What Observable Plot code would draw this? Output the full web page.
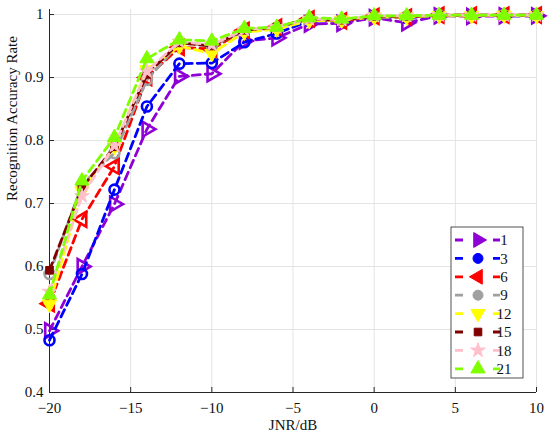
<!DOCTYPE html>
<html>
<head>
<meta charset="utf-8">
<script src="https://cdn.jsdelivr.net/npm/d3@7"></script>
<script src="https://cdn.jsdelivr.net/npm/@observablehq/plot@0.6"></script>
<style>
  body { margin: 0; background: #fff; }
  #chart { width: 550px; height: 436px; }
  #chart svg text { font-family: "Times New Roman", "Liberation Serif", "DejaVu Serif", serif !important; }
</style>
</head>
<body>
<div id="chart"></div>
<script>
// JNR values (dB)
const jnr = [-20, -18, -16, -14, -12, -10, -8, -6, -4, -2, 0, 2, 4, 6, 8, 10];

// recognition accuracy per series
const acc1  = [0.498, 0.600, 0.699, 0.818, 0.902, 0.906, 0.958, 0.963, 0.985, 0.986, 0.995, 0.987, 0.998, 0.997, 0.998, 0.998];
const acc3  = [0.483, 0.588, 0.722, 0.854, 0.922, 0.923, 0.956, 0.970, 0.990, 0.990, 0.996, 0.995, 0.998, 0.999, 0.998, 0.998];
const acc6  = [0.541, 0.675, 0.759, 0.900, 0.948, 0.945, 0.975, 0.980, 0.993, 0.990, 0.997, 0.996, 0.999, 0.999, 0.999, 0.999];
const acc9  = [0.588, 0.730, 0.780, 0.896, 0.955, 0.950, 0.974, 0.979, 0.992, 0.991, 0.997, 0.997, 0.999, 0.998, 0.999, 0.999];
const acc12 = [0.540, 0.720, 0.790, 0.912, 0.950, 0.938, 0.972, 0.977, 0.990, 0.991, 0.996, 0.996, 0.998, 0.998, 0.999, 0.998];
const acc15 = [0.594, 0.725, 0.790, 0.905, 0.955, 0.950, 0.975, 0.980, 0.993, 0.991, 0.997, 0.997, 0.999, 0.999, 0.999, 0.999];
const acc18 = [0.560, 0.712, 0.792, 0.910, 0.957, 0.952, 0.976, 0.980, 0.993, 0.992, 0.998, 0.998, 0.999, 0.999, 0.999, 0.999];
const acc21 = [0.555, 0.736, 0.805, 0.930, 0.960, 0.958, 0.978, 0.980, 0.995, 0.993, 0.998, 0.998, 0.999, 0.999, 0.999, 0.999];

const seriesNames   = ["1", "3", "6", "9", "12", "15", "18", "21"];
const seriesValues  = [acc1, acc3, acc6, acc9, acc12, acc15, acc18, acc21];
const seriesColors  = ["#8f00d6", "#0000ff", "#ff0000", "#a0a0a0", "#ffff00", "#800000", "#ffc0cb", "#80ff00"];
const seriesSymbols = ["triangle", "circle", "triangle", "circle", "triangle", "square", "star", "triangle"];
const seriesRotate  = [90, 0, -90, 0, 180, 0, 0, 0];
const seriesHollow  = [true, true, true, true, false, false, false, false];
const seriesR       = [5.5, 5, 5.5, 5, 5.3, 4.3, 4.6, 5.3];

const xTicks = [-20, -15, -10, -5, 0, 5, 10];
const yTicks = [0.4, 0.5, 0.6, 0.7, 0.8, 0.9, 1];

const axisColor = "#262626";
const gridColor = "#e3e3e3";

const seriesMarks = seriesValues.flatMap((vals, i) => {
  const rows = vals.map((v, j) => ({x: jnr[j], y: v}));
  return [
    Plot.line(rows, {
      x: "x", y: "y",
      stroke: seriesColors[i], strokeWidth: 2.8, strokeDasharray: "8,5"
    }),
    Plot.dot(rows, {
      x: "x", y: "y",
      symbol: seriesSymbols[i], rotate: seriesRotate[i], r: seriesR[i],
      stroke: seriesColors[i], strokeWidth: seriesHollow[i] ? 2.6 : 1,
      fill: seriesHollow[i] ? "none" : seriesColors[i]
    })
  ];
});

const chart = Plot.plot({
  width: 550,
  height: 436,
  marginLeft: 49,
  marginRight: 14,
  marginTop: 9,
  marginBottom: 44,
  style: {fontSize: "15px", background: "#fff", color: axisColor},
  x: {domain: [-20, 10]},
  y: {domain: [0.4, 1.008]},
  marks: [
    Plot.gridX(xTicks, {stroke: gridColor, strokeOpacity: 1}),
    Plot.gridY(yTicks, {stroke: gridColor, strokeOpacity: 1}),
    Plot.ruleX([-20], {stroke: axisColor}),
    Plot.ruleY([0.4], {stroke: axisColor}),
    Plot.axisX(xTicks, {tickSize: -5, tickFormat: () => "", stroke: axisColor, label: null}),
    Plot.axisX(xTicks, {tickSize: 0, tickPadding: 10, fill: "#111", label: null, fontSize: 15}),
    Plot.axisY(yTicks, {tickSize: -5, tickFormat: () => "", stroke: axisColor, label: null}),
    Plot.axisY(yTicks, {tickSize: 0, tickPadding: 6, fill: "#111", label: null, fontSize: 15, tickFormat: d => String(d)}),
    Plot.text(["JNR/dB"], {frameAnchor: "bottom", dy: 37, fill: "#111", fontSize: 15}),
    Plot.text(["Recognition Accuracy Rate"], {frameAnchor: "left", dx: -37, rotate: -90, fill: "#111", fontSize: 15}),
    ...seriesMarks
  ]
});

document.getElementById("chart").append(chart);

// legend box in the lower right of the axes
const legend = d3.select(chart).append("g").attr("transform", "translate(451,227)");
const rowH = 18.4;
legend.append("rect")
  .attr("width", 72).attr("height", 151)
  .attr("fill", "#fff").attr("stroke", axisColor).attr("stroke-width", 0.8);

const symbolMap = {triangle: d3.symbolTriangle, circle: d3.symbolCircle, square: d3.symbolSquare, star: d3.symbolStar};

seriesNames.forEach((name, i) => {
  const g = legend.append("g").attr("transform", `translate(0,${13 + i * rowH})`);
  g.append("line")
    .attr("x1", 4).attr("x2", 49)
    .attr("stroke", seriesColors[i]).attr("stroke-width", 2.8)
    .attr("stroke-dasharray", "8,30");
  const r = seriesR[i];
  g.append("path")
    .attr("d", d3.symbol(symbolMap[seriesSymbols[i]], r * r * Math.PI)())
    .attr("transform", `translate(27,0) rotate(${seriesRotate[i]})`)
    .attr("fill", seriesColors[i])
    .attr("stroke", seriesColors[i]).attr("stroke-width", 1);
  g.append("text")
    .attr("x", 53).attr("y", 0).attr("dy", "0.35em")
    .attr("fill", "#111").attr("font-size", 15)
    .text(name);
});
</script>
</body>
</html>
